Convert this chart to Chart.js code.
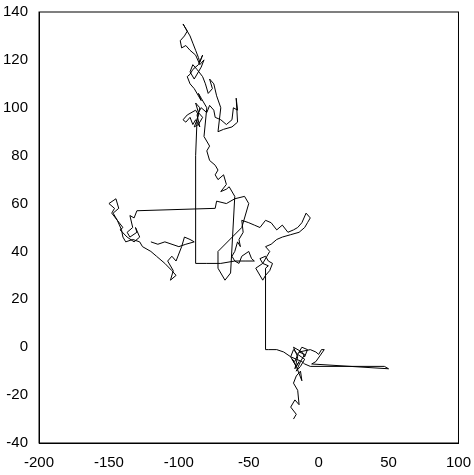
<!DOCTYPE html><html><head><script src="https://cdn.jsdelivr.net/npm/chart.js@4"></script>
<style>html,body{margin:0;background:#fff}#w{width:474px;height:475px}</style></head><body><div id="w"><canvas id="c"></canvas></div>
<script>
const xs=[-18,-16,-20,-17,-14,-15,-18,-16,-13,-12,-16,-19,-17,-15,-18,-20,-16,-14,-17,-15,-18,-12,-10,-8,-12,-15,-10,-13,-16,-13,-10,-14,-6,-2,0,2,4,-2,-5,50,47,-6,-10,-12,-20,-25,-30,-36,-38,-38,-36,-40,-42,-38,-36,-33,-35,-38,-40,-43,-45,-40,-37,-35,-38,-34,-30,-26,-20,-14,-10,-8,-6,-9,-12,-15,-18,-22,-26,-30,-34,-38,-42,-46,-50,-55,-54,-57,-56,-58,-60,-62,-60,-57,-55,-50,-48,-46,-52,-60,-70,-80,-88,-88,-88,-87,-85,-88,-86,-83,-86,-89,-87,-86,-88,-94,-97,-95,-92,-90,-88,-85,-87,-84,-80,-78,-75,-74,-70,-66,-62,-61,-58,-59,-58,-62,-68,-72,-70,-73,-75,-78,-76,-79,-81,-83,-87,-90,-92,-89,-86,-84,-82,-85,-88,-92,-95,-98,-99,-96,-94,-97,-95,-92,-90,-88,-86,-85,-83,-86,-90,-92,-94,-92,-89,-84,-86,-84,-80,-82,-78,-80,-78,-74,-72,-74,-72,-68,-66,-70,-66,-64,-60,-63,-67,-72,-72,-55,-50,-53,-60,-66,-73,-74,-130,-132,-135,-133,-137,-135,-130,-131,-128,-132,-137,-142,-140,-144,-148,-146,-150,-145,-143,-147,-144,-141,-140,-138,-133,-128,-126,-120,-116,-110,-105,-102,-106,-104,-108,-105,-102,-98,-96,-92,-89,-95,-100,-110,-115,-120,-125,-130,-118,-112,-108];
const ys=[-30,-28,-25,-22,-24,-18,-15,-12,-10,-14,-8,-5,-6,-3,-1,-4,-8,-6,-9,-4,0,-2,-4,-1,0,-3,-5,-8,-10,-6,-3,-2,-1,-2,-3,-1,-1,-6,-7,-9,-8,-8,-7,-6,-4,-2,-1,-1,-1,33,34,35,37,38,36,35,32,30,28,31,33,35,38,40,42,43,45,46,47,48,50,52,54,56,52,50,49,48,51,49,52,53,50,51,52,53,48,45,42,44,40,38,36,35,38,40,37,36,36,36,35,35,35,60,80,95,100,102,98,96,93,92,95,97,99,97,95,94,96,93,95,92,97,100,98,101,99,96,95,93,95,100,99,104,94,92,91,90,100,105,110,112,108,106,110,113,116,118,115,112,115,117,120,118,122,124,126,125,128,130,132,135,133,130,127,124,121,119,122,118,116,114,113,110,108,103,106,104,100,88,84,82,78,76,74,72,70,72,68,65,66,67,63,31,28,33,40,50,60,63,62,60,61,58,57,54,55,50,48,46,48,50,46,44,46,49,50,53,56,58,60,62,58,56,53,49,46,44,45,44,42,40,38,35,32,30,28,32,36,38,36,42,46,45,44,43,42,44,43,44];
const pts=xs.map((x,i)=>({x,y:ys[i]}));
new Chart(document.getElementById('c'),{type:'scatter',data:{datasets:[{data:pts,showLine:true,borderColor:'#000',borderWidth:1,pointRadius:0,tension:0}]},
options:{animation:false,responsive:true,maintainAspectRatio:false,layout:{padding:{left:0,right:14,top:6,bottom:0}},plugins:{legend:{display:false},tooltip:{enabled:false}},
scales:{x:{type:'linear',min:-200,max:100,ticks:{stepSize:50,color:'#000',font:{family:'Liberation Sans',size:15}},grid:{display:false},border:{color:'#000'}},
y:{type:'linear',min:-40,max:140,ticks:{stepSize:20,color:'#000',font:{family:'Liberation Sans',size:15}},grid:{display:false},border:{color:'#000'}}}},
plugins:[{id:'box',afterDraw(c){const a=c.chartArea,g=c.ctx;g.save();g.strokeStyle='#000';g.lineWidth=1;g.strokeRect(a.left,a.top,a.right-a.left,a.bottom-a.top);g.restore();}}]});
</script></body></html>
